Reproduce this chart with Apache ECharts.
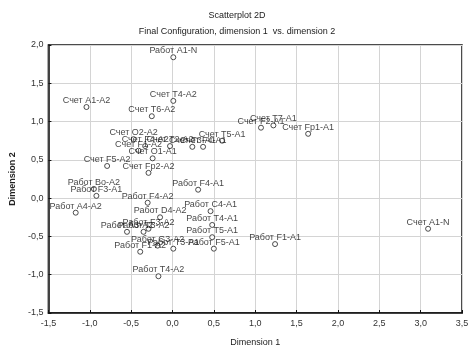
<!DOCTYPE html>
<html>
<head>
<meta charset="utf-8">
<style>
  html, body { margin: 0; padding: 0; background: #fff; }
  #chart { width: 474px; height: 355px; }
</style>
<script src="https://cdn.jsdelivr.net/npm/echarts@6/dist/echarts.min.js"></script>
</head>
<body>
<div id="chart"></div>
<script>
// названия точек и координаты (dimension 1 / dimension 2)
var pointNames = [
  'Работ A1-N', 'Счет A1-A2', 'Счет T4-A2', 'Счет T6-A2',
  'Счет F2-A1', 'Счет T7-A1', 'Счет Fp1-A1', 'Счет T5-A1', 'Счет T3-A1', 'Счет F4-A1',
  'Счет O2-A2', 'Счет F4-A2', 'Счет F1-A2', 'Счет O1-A1', 'Счет T2-A2',
  'Счет F5-A2', 'Счет Fp2-A2', 'Счет A1-N',
  'Работ Bo-A2', 'Работ F3-A1', 'Работ A4-A2', 'Работ F4-A2', 'Работ F4-A1',
  'Работ C4-A1', 'Работ T4-A1', 'Работ T5-A1', 'Работ F5-A1', 'Работ F1-A1',
  'Работ D4-A2', 'Работ F3-A2', 'Работ A3-A2', 'Работ T3-A2',
  'Работ F1-A2', 'Работ G3-A2', 'Работ T3-A1', 'Работ T4-A2'
]
var dim1 = [
  0.01, -1.04, 0.01, -0.25,
  1.07, 1.22, 1.64, 0.60, 0.24, 0.37,
  -0.47, -0.33, -0.41, -0.24, -0.03,
  -0.79, -0.29, 3.09,
  -0.95, -0.92, -1.17, -0.30, 0.31,
  0.46, 0.48, 0.48, 0.50, 1.24,
  -0.15, -0.29, -0.55, -0.35,
  -0.39, -0.18, 0.01, -0.17
]
var dim2 = [
  1.84, 1.19, 1.27, 1.07,
  0.92, 0.95, 0.84, 0.75, 0.67, 0.67,
  0.77, 0.68, 0.62, 0.52, 0.68,
  0.42, 0.33, -0.40,
  0.12, 0.03, -0.19, -0.06, 0.11,
  -0.17, -0.35, -0.51, -0.66, -0.60,
  -0.25, -0.40, -0.44, -0.44,
  -0.70, -0.62, -0.66, -1.02
]

var points = []
for (var i = 0; i < pointNames.length; i++) {
  points.push({ name: pointNames[i], value: [dim1[i], dim2[i]] })
}

function comma (v) {
  return v.toFixed(1).replace('.', ',')
}

var myChart = echarts.init(document.getElementById('chart'))
var option = {
  backgroundColor: '#fff',
  animation: false,
  textStyle: { fontFamily: 'Liberation Sans, Arial, sans-serif' },
  title: {
    text: 'Scatterplot 2D',
    subtext: 'Final Configuration, dimension 1  vs. dimension 2',
    left: 'center',
    top: 6,
    itemGap: 7,
    textStyle: { fontSize: 9, fontWeight: 'normal', color: '#222' },
    subtextStyle: { fontSize: 9, color: '#222' }
  },
  grid: {
    left: 48,
    right: 12,
    top: 45,
    bottom: 42,
    show: true,
    borderColor: '#111',
    borderWidth: 1.5,
    containLabel: false
  },
  xAxis: {
    type: 'value',
    min: -1.5,
    max: 3.5,
    interval: 0.5,
    name: 'Dimension 1',
    nameLocation: 'middle',
    nameGap: 25,
    nameTextStyle: { fontSize: 9, color: '#222' },
    axisLine: { onZero: false, lineStyle: { color: '#111', width: 1.5 } },
    axisTick: { inside: true, length: 3, lineStyle: { color: '#111' } },
    axisLabel: { fontSize: 9, color: '#333', margin: 6, formatter: comma },
    splitLine: { lineStyle: { color: '#d4d4d4' } }
  },
  yAxis: {
    type: 'value',
    min: -1.5,
    max: 2,
    interval: 0.5,
    name: 'Dimension 2',
    nameLocation: 'middle',
    nameGap: 30,
    nameTextStyle: { fontSize: 9, color: '#222', fontWeight: 'bold' },
    axisLine: { onZero: false, lineStyle: { color: '#111', width: 1.5 } },
    axisTick: { inside: true, length: 3, lineStyle: { color: '#111' } },
    axisLabel: { fontSize: 9, color: '#333', margin: 5, formatter: comma },
    splitLine: { lineStyle: { color: '#d4d4d4' } }
  },
  series: [
    {
      type: 'scatter',
      data: points,
      symbol: 'circle',
      symbolSize: 5,
      itemStyle: { color: '#fff', borderColor: '#222', borderWidth: 1 },
      label: {
        show: true,
        position: 'top',
        distance: -1,
        fontSize: 9,
        color: '#111',
        formatter: function (p) { return p.name }
      }
    }
  ]
}
myChart.setOption(option)
</script>
</body>
</html>
